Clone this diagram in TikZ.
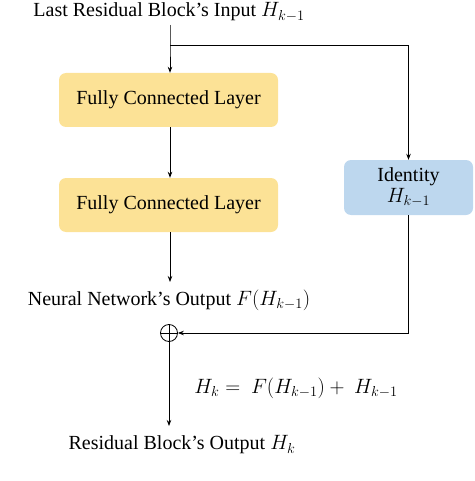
\documentclass[tikz,border=0pt]{standalone}
\usepackage{fontspec}
\setmainfont{Liberation Serif}
\usetikzlibrary{arrows.meta,calc}
\definecolor{fcyellow}{RGB}{252,226,150}
\definecolor{idblue}{RGB}{189,215,238}
\tikzset{
    fcbox/.style={fill=fcyellow,rounded corners=7pt,minimum width=219pt,minimum height=54pt,font=\fontsize{20}{23}\selectfont},
    idbox/.style={fill=idblue,rounded corners=7pt,minimum width=129pt,minimum height=55pt,align=center,font=\fontsize{20}{21}\selectfont},
    lbl/.style={font=\fontsize{20}{23}\selectfont},
    arr/.style={-{Stealth[length=6pt,width=4.5pt]},line width=0.8pt},
}
\begin{document}
\begin{tikzpicture}[x=1pt,y=-1pt]
    \useasboundingbox (0,0) rectangle (474,481);

    % Input and the two layers
    \node[lbl] (input) at (169,12) {Last Residual Block's Input $H_{k-1}$};
    \coordinate (split) at (170,45);
    \node[fcbox] (fc1) at (168.5,100) {Fully Connected Layer};
    \node[fcbox] (fc2) at (168.5,205) {Fully Connected Layer};

    % Shortcut branch
    \node[idbox] (id) at (408.5,187.5) {Identity\\$H_{k-1}$};

    % Sum and output
    \node[lbl] (nnout) at (169,300) {Neural Network's Output $F(H_{k-1})$};
    \node[draw,circle,line width=0.8pt,minimum size=17pt,inner sep=0pt,
        path picture={\draw[line width=0.8pt] (path picture bounding box.north) -- (path picture bounding box.south)
            (path picture bounding box.west) -- (path picture bounding box.east);}] (add) at (169,333) {};
    \node[lbl] (eq) at (296,388) {$H_k = \ F(H_{k-1}) + \ H_{k-1}$};
    \node[lbl] (out) at (182,445) {Residual Block's Output $H_k$};

    % Arrows
    \draw[arr] (split |- 0,25) -- (split) -- (split |- fc1.north);
    \draw[arr] (split) -| (id.north);
    \draw[arr] (fc1.south -| split) -- (split |- fc2.north);
    \draw[arr] (fc2.south -| split) -- (split |- 0,282);
    \draw[arr] (id.south) |- (add.east);
    \draw[arr] (add.south) -- (add.south |- 0,426);
\end{tikzpicture}
\end{document}
